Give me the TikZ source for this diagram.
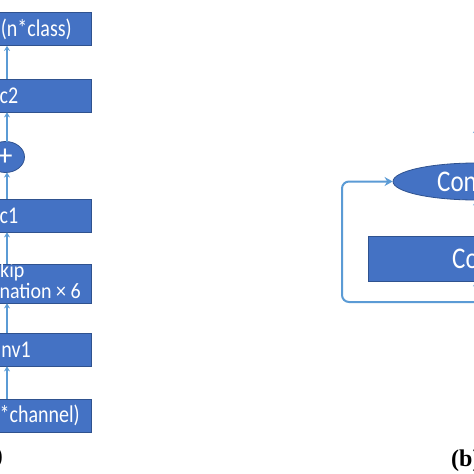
\documentclass[tikz,border=0pt]{standalone}
\usepackage{graphicx}
\usepackage{fontspec}
\setmainfont{Carlito}
\newfontfamily\capfont{Liberation Serif}
\usetikzlibrary{shapes.geometric,arrows.meta}
\definecolor{boxblue}{HTML}{4472C4}
\definecolor{boxedge}{HTML}{2F528F}
\definecolor{lineblue}{HTML}{5B9BD5}
\newcommand{\tallt}[1]{\scalebox{1}[1.2]{#1}}
\tikzset{
  blk/.style={draw=boxedge, fill=boxblue, line width=0.8pt, rectangle, inner sep=0pt},
  oval/.style={draw=boxedge, fill=boxblue, line width=0.8pt, ellipse, inner sep=0pt},
  txt/.style={text=white, font=\fontsize{20}{22}\selectfont, inner sep=0pt},
  bigtxt/.style={text=white, font=\fontsize{25}{28}\selectfont, inner sep=0pt},
  flowline/.style={draw=lineblue, line width=1.3pt, -{Stealth[length=5pt,width=6pt]}},
  backline/.style={draw=lineblue, line width=2pt, rounded corners=7pt, -{Stealth[length=8pt,width=9pt]}},
  figcap/.style={font=\capfont\bfseries\fontsize{24}{26}\selectfont, inner sep=0pt}
}
\begin{document}
\begin{tikzpicture}[x=1pt,y=-1pt]
\useasboundingbox (0,0) rectangle (474,474);
\clip (0,0) rectangle (474,474);
\fill[white] (0,0) rectangle (474,474);
% left column
\node[blk, minimum width=151pt, minimum height=33pt] (out) at (15.5,29) {};
\node[txt, anchor=east] (outt) at (72,29) {\tallt{(n*class)}};
\node[blk, minimum width=151pt, minimum height=33pt] (fc2) at (15.5,95.5) {};
\node[txt, anchor=east] (fc2t) at (18.5,95.5) {\tallt{c2}};
\node[oval, minimum width=38pt, minimum height=31pt] (add) at (5.5,157) {};
\node[text=white, font=\fontsize{30}{30}\selectfont, inner sep=0pt] (addt) at (5,157) {+};
\node[blk, minimum width=151pt, minimum height=33pt] (fc1) at (15.5,215.5) {};
\node[txt, anchor=east] (fc1t) at (18.5,215.5) {\tallt{c1}};
\node[blk, minimum width=151pt, minimum height=39pt] (skip) at (15.5,283.5) {};
\node[txt, anchor=base west] (skipa) at (0,277.5) {\scalebox{1}[1.1]{kip}};
\node[txt, anchor=base east] (skipb) at (81,298) {\scalebox{1}[1.1]{nation × 6}};
\node[blk, minimum width=151pt, minimum height=33pt] (conv) at (15.5,349.5) {};
\node[txt, anchor=east] (convt) at (31,349.5) {\tallt{nv1}};
\node[blk, minimum width=151pt, minimum height=33pt] (inp) at (15.5,415.5) {};
\node[txt, anchor=east] (inpt) at (80,415.5) {\tallt{*channel)}};
\node[figcap, anchor=east] (capa) at (3,458) {(a)};
\draw[flowline] (inp.north -| 7,0) -- (conv.south -| 7,0);
\draw[flowline] (conv.north -| 7,0) -- (skip.south -| 7,0);
\draw[flowline] (skip.north -| 7,0) -- (fc1.south -| 7,0);
\draw[flowline] (fc1.north -| 7,0) -- (7,172.5);
\draw[flowline] (7,141.5) -- (fc2.south -| 7,0);
\draw[flowline] (fc2.north -| 7,0) -- (out.south -| 7,0);
% right panel
\node[oval, minimum width=166pt, minimum height=37pt] (cat) at (476,181.5) {};
\node[bigtxt, anchor=west] (catt) at (437,182) {\tallt{Concat}};
\node[blk, minimum width=216pt, minimum height=45pt] (cb) at (476,258.5) {};
\node[bigtxt, anchor=west] (cbt) at (452,259) {\tallt{Conv}};
\coordinate (top) at (476,128);
\coordinate (bot) at (476,302);
\coordinate (low) at (476,320);
\draw[flowline] (cat.north) -- (top);
\draw[flowline] (cb.north) -- (cat.south);
\draw[flowline] (low) -- (cb.south);
\draw[backline] (bot) -- (342,302) -- (342,181.5) -- (cat.west);
\node[figcap, anchor=west] (capb) at (451,461) {(b)};
\end{tikzpicture}
\end{document}
